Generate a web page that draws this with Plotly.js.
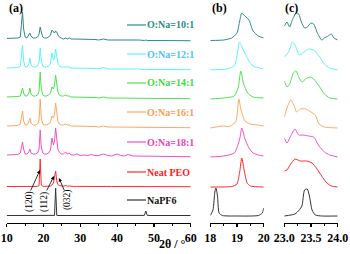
<!DOCTYPE html>
<html><head><meta charset="utf-8">
<script src="https://cdn.plot.ly/plotly-3.0.1.min.js"></script>
<style>html,body{margin:0;padding:0;background:#fff}#chart{width:350px;height:254px}</style>
</head><body><div id="chart"></div>
<script>
// ---------- DATA ----------
const seriesNames = ["O:Na=10:1","O:Na=12:1","O:Na=14:1","O:Na=16:1","O:Na=18:1","Neat PEO","NaPF6"];
const offsets = [184,155,126,97,68,38,9];

// Panel (a): 2θ from 10 to 60
const twoThetaA = [10,11,12,13,13.7,14.0,14.3,14.6,15.0,15.5,16.0,16.3,16.6,17.2,17.8,18.4,18.8,19.1,19.4,19.8,20.3,20.8,21.4,21.9,22.3,22.7,23.0,23.3,23.6,23.9,24.3,24.8,25.4,26.0,26.5,27.0,27.5,28.2,29.0,30,31,32,33,34,35,36.3,37.5,38.5,40,41,42,43,44.5,46,47.4,47.8,48.2,49.5,51,53,55,57,60];
const a_10 = [2.5,2.5,2.5,3,4,14,29,12,4,3,6,8,5,3,3,4,7,14,9,4,3,3,4,6,11,9,8,10,9,6,4,3,2,3,2,3,2,2,2,1.5,2,1.5,1.5,1.5,1,2,1,1,1,1,1,1.5,1,1,0.5,1,0.5,0.5,0.5,0.5,0.3,0.3,0.3];
const a_12 = [2,2,2,2.5,4,12,25,9,3,3,6,12,5,3,3,4,8,22,10,4,3,3,4,7,17,10,12,21,12,7,4,3,3,3,3,3,2,2,2,1.5,2,1.5,2,1.5,1,2.5,1,1,1.5,1,1,1.5,1,1,0.5,1,0.5,0.5,0.5,0.5,0.3,0.3,0.3];
const a_14 = [2,2,2,2.5,3,7,11,6,3,3,6,11,5,3,3,4,8,27,10,4,3,3,4,6,12,10,14,24,14,7,4,3,3,4,3,3,2,2,2,1.5,2,1.5,1.5,1.5,1,2,1,1,1,1,1,1,1,1,0.5,1,0.5,0.5,0.5,0.5,0.3,0.3,0.3];
const a_16 = [2,2,2,2.5,4,10,17,7,3,3,6,10,5,3,3,4,8,29,10,4,3,3,4,6,12,10,14,25,13,7,4,3,3,4,3,3,2,2,2,1.5,2,1.5,1.5,1.5,1,2,1,1,1,1,1,1,1,1,0.5,1,0.5,0.5,0.5,0.5,0.3,0.3,0.3];
const a_18 = [2,2,2,2.5,4,10,15,8,3,3,5,8,4,3,3,4,8,27,10,4,3,3,4,7,19,12,16,29,15,8,5,3,3,5,3,4,2,2,3,1.5,2,1.5,2.5,1.5,1.5,3,1.5,1,3,1.5,1,2.5,1,1,0.5,1,0.5,0.5,0.5,0.5,0.3,0.3,0.3];
const a_peo = [0.5,0.5,0.5,0.5,0.5,0.5,0.6,0.5,0.5,0.5,0.5,0.6,0.5,0.5,0.5,0.6,1.5,28,2,0.8,0.6,0.6,0.8,1,2,4,10,16,6,2.5,1.5,1,0.8,1.5,0.8,1,0.6,0.5,0.6,0.5,0.5,0.5,0.5,0.5,0.5,0.6,0.5,0.5,0.5,0.5,0.5,0.5,0.5,0.5,0.4,0.5,0.4,0.4,0.4,0.4,0.3,0.3,0.3];
const a_napf6 = [0.5,0.5,0.5,0.5,0.5,0.5,0.5,0.5,0.5,0.5,0.5,0.5,0.5,0.5,0.5,0.5,0.5,0.6,0.5,0.5,1.2,0.5,0.5,0.5,0.5,0.5,0.6,28,0.6,0.5,0.5,0.5,0.5,0.5,0.5,0.5,0.5,0.5,0.5,0.5,0.5,0.5,0.5,0.5,0.5,0.5,0.5,0.5,0.5,0.5,0.5,0.5,0.5,0.5,0.6,5,0.6,0.5,0.5,0.5,0.5,0.5,0.5];

// Panel (b): 2θ from 18 to 20
const b_x10 = [18,18.5,18.8,19.0,19.1,19.18,19.3,19.45,19.6,19.8,20];
const b_y10 = [0.5,1,3,8,20,28,25,21,10,5,3];
const b_x12 = [18,18.6,18.9,19.0,19.09,19.2,19.35,19.45,19.6,20];
const b_y12 = [0,1,4,14,28,22,14,9,4,1];
const b_x14 = [18,18.5,18.9,19.05,19.14,19.25,19.4,19.6,20];
const b_y14 = [0,1,3,12,28,15,6,2,1];
const b_x16 = [18,18.47,18.7,18.95,19.07,19.15,19.3,19.5,19.8,20];
const b_y16 = [0,2,1.5,6,29,18,7,4,3,2];
const b_x18 = [18,18.5,18.9,19.1,19.18,19.3,19.45,19.6,19.8,20];
const b_y18 = [0,1,4,18,29,18,9,4,2,1];
const b_xpeo = [18,18.8,19.0,19.1,19.18,19.28,19.38,19.5,20];
const b_ypeo = [0,0.5,3,15,29,15,4,1,0];
const b_xna = [18,18.1,18.17,18.21,18.27,18.33,18.45,19,19.8,19.95,20];
const b_yna = [0.5,6,24,28,20,3,0.5,0,0.5,3,8];

// Panel (c): 2θ from 23.0 to 24.0
const c_x10 = [23.0,23.05,23.1,23.15,23.22,23.27,23.32,23.38,23.43,23.5,23.55,23.62,23.7,23.75,23.82,23.88,23.93,24.0];
const c_y10 = [15,19,14,21,28,27,19,13,14,18,17,8,1,3,5,7,3,1];
const c_x12 = [23.0,23.08,23.15,23.2,23.28,23.35,23.45,23.55,23.65,23.75,23.85,24.0];
const c_y12 = [13,18,28,25,15,17,21,20,14,6,2,0];
const c_x14 = [23.0,23.05,23.1,23.17,23.22,23.28,23.33,23.4,23.48,23.55,23.65,23.75,23.85,24.0];
const c_y14 = [18,12,15,26,28,21,17,20,22,20,13,5,1,0];
const c_x16 = [23.0,23.05,23.12,23.18,23.23,23.3,23.4,23.5,23.58,23.65,23.75,24.0];
const c_y16 = [11,20,28,23,16,19,19,16,13,4,1,0];
const c_x18 = [23.0,23.05,23.12,23.2,23.27,23.35,23.45,23.55,23.65,23.75,23.85,24.0];
const c_y18 = [19,14,21,28,22,22,21,20,11,5,2,0];
const c_xpeo = [23.0,23.05,23.12,23.2,23.3,23.42,23.52,23.6,23.7,23.78,23.88,24.0];
const c_ypeo = [16,17,23,28,26,26,24,19,11,5,1,0];
const c_xna = [23.0,23.2,23.28,23.33,23.38,23.43,23.47,23.52,23.58,23.7,24.0];
const c_yna = [0,2,6,10,26,27,20,6,1,0,0];

const ticksA = [10,20,30,40,50,60];
const ticksB = [18,19,20];
const ticksC = [23.0,23.5,24.0];
const tickTextC = ["23.0","23.5","24.0"];
const peakLabels = ["(120)","(112)","(032)"];
const xTitle = "2θ / °";

// ---------- STYLE ----------
const colors = ["#2e8b84","#5cf2fb","#4fe04f","#ffa860","#f252bd","#ff2b2b","#333333"];
const textColors = ["#2e8b84","#4cc4f5","#3fd83f","#ff9c50","#ee40b4","#ff2020","#111111"];
const FONT = "Liberation Serif, Times New Roman, serif";

const aY = [a_10,a_12,a_14,a_16,a_18,a_peo,a_napf6];
const bX = [b_x10,b_x12,b_x14,b_x16,b_x18,b_xpeo,b_xna];
const bY = [b_y10,b_y12,b_y14,b_y16,b_y18,b_ypeo,b_yna];
const cX = [c_x10,c_x12,c_x14,c_x16,c_x18,c_xpeo,c_xna];
const cY = [c_y10,c_y12,c_y14,c_y16,c_y18,c_ypeo,c_yna];

const traces = [];
for (let i = 0; i < seriesNames.length; i++) {
  const line = {color: colors[i], width: 1};
  traces.push({x: twoThetaA, y: aY[i].map(v => v + offsets[i]), xaxis: 'x', yaxis: 'y', mode: 'lines', line, name: seriesNames[i], hoverinfo: 'skip'});
  traces.push({x: bX[i], y: bY[i].map(v => v + offsets[i]), xaxis: 'x2', yaxis: 'y', mode: 'lines', line: Object.assign({shape: 'spline', smoothing: 0.6}, line), hoverinfo: 'skip'});
  traces.push({x: cX[i], y: cY[i].map(v => v + offsets[i]), xaxis: 'x3', yaxis: 'y', mode: 'lines', line: Object.assign({shape: 'spline', smoothing: 0.6}, line), hoverinfo: 'skip'});
}

const W = 350, PH = 223; // plot area height in px (paper y spans this)
const py = p => (PH - p) / PH; // pixel row -> paper y
const axisCommon = {
  showgrid: false, zeroline: false, showline: true, linecolor: '#000', linewidth: 1.3,
  ticks: 'outside', ticklen: 3, tickwidth: 1.2, tickcolor: '#000',
  tickfont: {family: FONT, size: 12, color: '#000', weight: 'bold'},
  anchor: 'y', fixedrange: true
};
const layout = {
  width: 350, height: 254,
  margin: {l: 0, r: 0, t: 0, b: 254 - PH},
  paper_bgcolor: '#fff', plot_bgcolor: '#fff',
  showlegend: false,
  xaxis: Object.assign({}, axisCommon, {domain: [6.7/W, 190.7/W], range: [10, 60], tickvals: ticksA,
    minor: {dtick: 5, ticks: 'outside', ticklen: 2, tickcolor: '#000', tickwidth: 1}}),
  xaxis2: Object.assign({}, axisCommon, {domain: [210.3/W, 263.7/W], range: [18, 20], tickvals: ticksB,
    minor: {dtick: 0.5, ticks: 'outside', ticklen: 2, tickcolor: '#000', tickwidth: 1}}),
  xaxis3: Object.assign({}, axisCommon, {domain: [284.3/W, 337.7/W], range: [23, 24], tickvals: ticksC, ticktext: tickTextC,
    minor: {dtick: 0.25, ticks: 'outside', ticklen: 2, tickcolor: '#000', tickwidth: 1}}),
  yaxis: {domain: [0, 1], range: [225 - PH, 225], visible: false, fixedrange: true},
  shapes: [],
  annotations: []
};

// Panel letters
[["(a)", 7], ["(b)", 210], ["(c)", 283]].forEach(([t, px]) => {
  layout.annotations.push({text: '<b>' + t + '</b>', xref: 'paper', yref: 'paper', x: px / W, y: py(8),
    xanchor: 'left', yanchor: 'middle', showarrow: false, font: {family: FONT, size: 12, color: '#000'}});
});
// Axis title
layout.annotations.push({text: '<b>' + xTitle + '</b>', xref: 'paper', yref: 'paper', x: 172 / W, y: py(253),
  xanchor: 'center', yanchor: 'bottom', showarrow: false, font: {family: FONT, size: 12, color: '#000'}});

// Legend-like labels
const legY = [25, 54, 83, 112, 142, 172, 200];
for (let i = 0; i < seriesNames.length; i++) {
  const yp = py(legY[i]);
  layout.shapes.push({type: 'line', xref: 'paper', yref: 'paper', x0: 127/W, x1: 146/W, y0: yp, y1: yp,
    line: {color: colors[i], width: 1.2}});
  layout.annotations.push({text: '<b>' + seriesNames[i] + '</b>', xref: 'paper', yref: 'paper', x: 145/W, y: yp,
    xanchor: 'left', yanchor: 'middle', showarrow: false, font: {family: FONT, size: 10, color: textColors[i]}});
}

// Peak labels with arrows (data coordinates of panel a)
const labelPos = [[16.06, 23], [20.14, 23], [26.4, 25]];
const arrowHead = [[19.05, 55], [22.85, 49], [24.2, 47]];
const arrowTail = [[16.33, 33], [20.68, 33], [25.84, 33]];
for (let k = 0; k < 3; k++) {
  layout.annotations.push({text: peakLabels[k], xref: 'x', yref: 'y', x: labelPos[k][0], y: labelPos[k][1],
    textangle: -90, showarrow: false, font: {family: FONT, size: 9.5, color: '#000'}});
  layout.annotations.push({text: '', xref: 'x', yref: 'y', axref: 'x', ayref: 'y',
    x: arrowHead[k][0], y: arrowHead[k][1], ax: arrowTail[k][0], ay: arrowTail[k][1],
    showarrow: true, arrowhead: 2, arrowsize: 0.9, arrowwidth: 0.8, arrowcolor: '#000'});
}

Plotly.newPlot('chart', traces, layout, {staticPlot: true, displayModeBar: false});
</script>
</body></html>
